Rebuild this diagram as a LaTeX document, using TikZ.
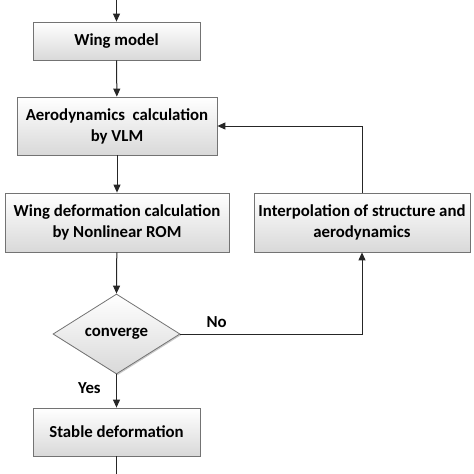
\documentclass[tikz,border=0pt]{standalone}
\usepackage{fontspec}
\setmainfont{Carlito}
\usetikzlibrary{shapes.geometric,arrows.meta,shadows}
\begin{document}
\begin{tikzpicture}[x=1pt,y=-1pt,
  font=\bfseries\fontsize{16.8}{21}\selectfont,
  boxstyle/.style={draw=black!55, line width=0.8pt, top color=white, bottom color=black!15,
    drop shadow={shadow xshift=1.2pt, shadow yshift=-1.2pt, opacity=0.35, fill=black!60},
    inner sep=0pt, align=center},
  conn/.style={line width=1pt, draw=black!85},
  arr/.style={conn, -{Triangle[length=8pt,width=7pt]}}]
\useasboundingbox (0,0) rectangle (474,474);
\node[boxstyle, minimum width=167pt, minimum height=38pt] (wm) at (116.5,41) {Wing model};
\node[boxstyle, minimum width=200pt, minimum height=58pt] (aero) at (117,126) {Aerodynamics\ \ calculation\\by VLM};
\node[boxstyle, minimum width=224pt, minimum height=59pt] (wd) at (117,222.5) {Wing deformation calculation\\by Nonlinear ROM};
\node[boxstyle, minimum width=216pt, minimum height=59pt] (ip) at (362,222.5) {Interpolation of structure and\\aerodynamics};
\node[boxstyle, diamond, aspect=1.6, minimum width=127pt, minimum height=80pt, inner sep=0pt] (cv) at (116.5,334) {converge};
\node[boxstyle, minimum width=167pt, minimum height=48pt] (st) at (116.5,432) {Stable deformation};
\coordinate (top) at (116.5,0);
\coordinate (bot) at (116.5,474);
\coordinate (c1) at (362,126);
\coordinate (c2) at (362,334);
\draw[arr] (top) -- (wm.north);
\draw[arr] (wm) -- (aero);
\draw[arr] (aero) -- (wd);
\draw[arr] (wd) -- (cv.north);
\draw[arr] (cv.south) -- node[pos=0.4, left=12pt] (yes) {Yes} (st.north);
\draw[conn] (st.south) -- (bot);
\draw[arr] (cv.east) -- node[pos=0.2, above=3pt] (no) {No} (c2) -- (ip.south);
\draw[arr] (ip.north) -- (c1) -- (aero.east);
\end{tikzpicture}
\end{document}
